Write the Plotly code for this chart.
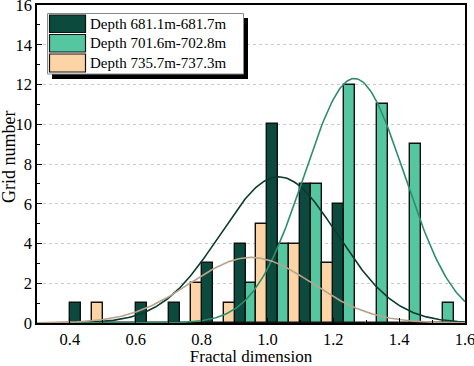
import numpy as np
import plotly.graph_objects as go

# ---- data ----
bin_centers = [0.45, 0.55, 0.65, 0.75, 0.85, 0.95, 1.05, 1.15, 1.25, 1.35, 1.45, 1.55]
depth_681 = [1, 0, 1, 1, 3, 4, 10, 7, 6, 0, 0, 0]
depth_701 = [0, 0, 0, 0, 0, 2, 4, 7, 12, 11, 9, 1]
depth_735 = [1, 0, 0, 2, 1, 5, 4, 3, 0, 0, 0, 0]
series_names = ["Depth 681.1m-681.7m", "Depth 701.6m-702.8m", "Depth 735.7m-737.3m"]

# fitted normal curves: (amplitude, mean, sigma)
fit_681 = (7.35, 1.034, 0.178)
fit_701 = (12.3, 1.264, 0.152)
fit_735 = (3.3, 0.95, 0.185)

x_ticks = [0.4, 0.6, 0.8, 1.0, 1.2, 1.4, 1.6]
y_ticks = [0, 2, 4, 6, 8, 10, 12, 14, 16]

bar_colors = ["#0b4a3c", "#55c7a0", "#fcd4a6"]
curve_colors = ["#0b3a2e", "#2f8d6e", "#b8a38d"]
FONT = "Times New Roman"

fig = go.Figure()
for vals, name, col in zip([depth_681, depth_701, depth_735], series_names, bar_colors):
    fig.add_trace(go.Bar(x=bin_centers, y=vals, name=name, showlegend=False,
                         marker=dict(color=col, line=dict(color="#111111", width=1.4))))

xs = np.linspace(0.3, 1.6, 300)
for (a, mu, sd), col in zip([fit_681, fit_701, fit_735], curve_colors):
    fig.add_trace(go.Scatter(x=xs, y=a * np.exp(-0.5 * ((xs - mu) / sd) ** 2), mode="lines",
                             line=dict(color=col, width=1.6), showlegend=False, hoverinfo="skip"))

# ---- layout geometry (pixels) ----
W, H = 474, 366
L, R, T, B = 37, 9, 5, 43
pw, ph = W - L - R, H - T - B

def px(x):
    return (x - L) / pw

def py(y):
    return (H - B - y) / ph

tf = dict(family=FONT, size=16.5, color="black")

shapes = []
# legend shadow + box
shapes.append(dict(type="rect", xref="paper", yref="paper", x0=px(52), x1=px(248), y0=py(79), y1=py(18),
                   fillcolor="black", line=dict(width=0), layer="above"))
shapes.append(dict(type="rect", xref="paper", yref="paper", x0=px(47.5), x1=px(243.5), y0=py(74), y1=py(13.5),
                   fillcolor="white", line=dict(color="#8a8a8a", width=1), layer="above"))
annotations = []
rows = [(15, 32.5), (34.5, 52), (54, 72)]
for (t0, t1), name, col in zip(rows, series_names, bar_colors):
    shapes.append(dict(type="rect", xref="paper", yref="paper", x0=px(49.5), x1=px(85.5), y0=py(t1), y1=py(t0),
                       fillcolor=col, line=dict(color="#111111", width=1.2), layer="above"))
    annotations.append(dict(xref="paper", yref="paper", x=px(88), y=py((t0 + t1) / 2), text=name,
                            showarrow=False, xanchor="left", yanchor="middle",
                            font=dict(family=FONT, size=15, color="black")))
# y-axis title
annotations.append(dict(xref="paper", yref="paper", x=px(9), y=py(157), text="Grid number",
                        textangle=-90, showarrow=False, xanchor="center", yanchor="middle",
                        font=dict(family=FONT, size=18, color="black")))

fig.update_layout(
    width=W, height=H, margin=dict(l=L, r=R, t=T, b=B),
    paper_bgcolor="white", plot_bgcolor="white",
    barmode="group", bargap=0, bargroupgap=0,
    font=tf,
    shapes=shapes, annotations=annotations,
)
fig.update_xaxes(range=[0.3, 1.6], tickvals=x_ticks, ticktext=[f"{v:.1f}" for v in x_ticks],
                 automargin=False,
                 showgrid=False, zeroline=False, showline=True, linecolor="black", linewidth=1.5,
                 mirror=True, ticks="inside", ticklen=5, tickcolor="black", ticklabeloverflow="allow",
                 minor=dict(dtick=0.1, tick0=0.3, ticks="inside", ticklen=3, tickcolor="black"),
                 title=dict(text="Fractal dimension", standoff=2,
                            font=dict(family=FONT, size=17, color="black")),
                 tickfont=tf)
fig.update_yaxes(range=[0, 16], tickvals=y_ticks, automargin=False,
                 showgrid=True, gridcolor="#c8c8c8", griddash="dot",
                 gridwidth=1, zeroline=False, showline=True, linecolor="black", linewidth=1.5,
                 mirror=True, ticks="inside", ticklen=5, tickcolor="black", ticklabeloverflow="allow",
                 minor=dict(dtick=1, ticks="inside", ticklen=3, tickcolor="black"),
                 tickfont=tf)

fig.write_html("out.html", config={"displayModeBar": False},
               post_script="document.body.style.margin='0';document.body.style.padding='0';")
